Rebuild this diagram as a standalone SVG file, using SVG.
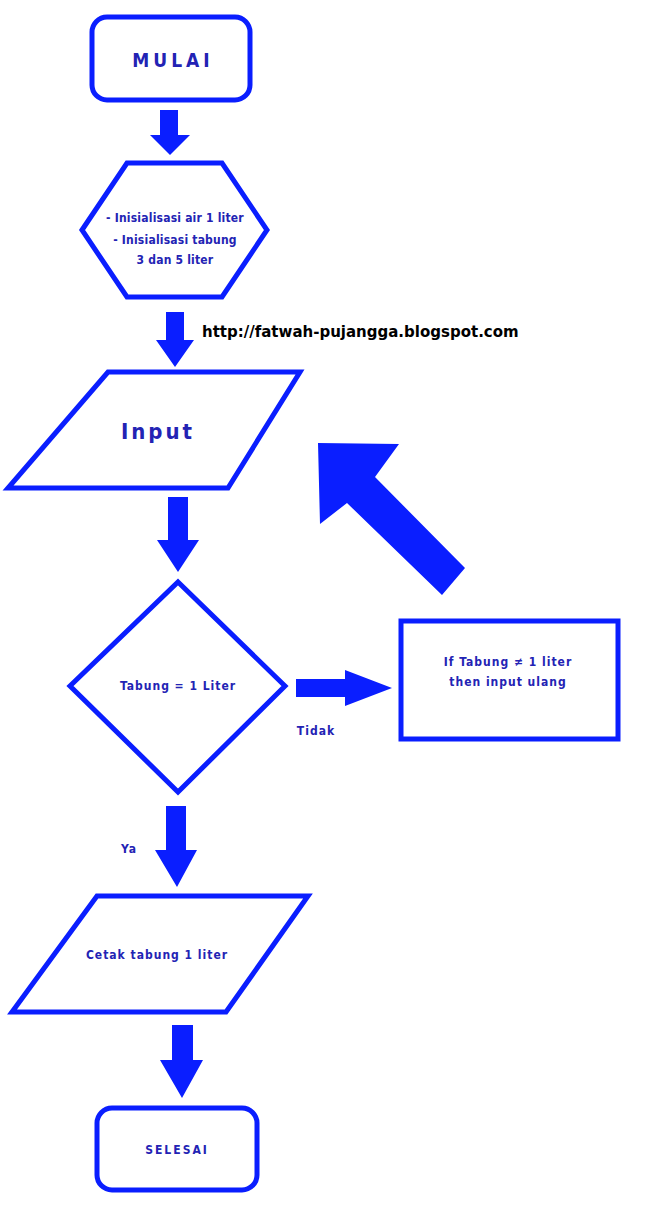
<svg xmlns="http://www.w3.org/2000/svg" width="645" height="1211" viewBox="0 0 645 1211">
<style>
.s{fill:#fff;stroke:#0a1eff;stroke-width:5}
.a{fill:#0a1eff}
.t{font-family:"DejaVu Sans Condensed","Liberation Sans",sans-serif;fill:#2323b4;font-size:12px;font-weight:bold;text-anchor:middle;letter-spacing:1px}
.h{letter-spacing:0.2px}
</style>
<rect width="645" height="1211" fill="#fff"/>
<g id="connectors">
<polygon class="a" points="160,110 178,110 178,135 190,135 170,155 150,135 160,135"/>
<polygon class="a" points="166,312 184,312 184,340 194,340 175,367 156,340 166,340"/>
<polygon class="a" points="168,497 188,497 188,540 199,540 178,572 157,540 168,540"/>
<polygon class="a" points="296,679 345,679 345,670 392,688 345,706 345,697 296,697"/>
<polygon class="a" points="318,443 399,444 375,477 465,568 442,595 347,503 320,524"/>
<polygon class="a" points="166,806 186,806 186,850 197,850 177,887 155,850 166,850"/>
<polygon class="a" points="172,1025 193,1025 193,1060 203,1060 182,1098 160,1060 172,1060"/>
<text class="t" x="316" y="735">Tidak</text>
<text class="t" x="129" y="853">Ya</text>
</g>
<g id="mulai"><rect class="s" x="92" y="17" width="158" height="83" rx="15"/><text class="t" x="173" y="67" style="font-size:19px;letter-spacing:4px">MULAI</text></g>
<g id="init"><polygon class="s" points="82,230 127,163 222,163 267,230 222,297 127,297"/>
<text class="t h" x="175" y="222">- Inisialisasi air 1 liter</text>
<text class="t h" x="175" y="244">- Inisialisasi tabung</text>
<text class="t h" x="175" y="264">3 dan 5 liter</text></g>
<text x="202" y="337" style="font-family:'DejaVu Sans',sans-serif;font-size:15px;font-weight:bold;fill:#000">http://fatwah-pujangga.blogspot.com</text>
<g id="input"><polygon class="s" points="108,372 300,372 228,488 8,488"/><text class="t" x="158" y="439" style="font-size:22px;letter-spacing:3px">Input</text></g>
<g id="decision"><polygon class="s" points="178,582 285,686 178,792 70,686"/><text class="t" x="178" y="690">Tabung = 1 Liter</text></g>
<g id="ulang"><rect class="s" x="401" y="621" width="217" height="118"/>
<text class="t" x="508" y="666">If Tabung ≠ 1 liter</text>
<text class="t" x="508" y="686">then input ulang</text></g>
<g id="cetak"><polygon class="s" points="97,896 308,896 226,1012 12,1012"/><text class="t" x="157" y="959">Cetak tabung 1 liter</text></g>
<g id="selesai"><rect class="s" x="97" y="1108" width="160" height="82" rx="15"/><text class="t" x="177" y="1154" style="letter-spacing:2px">SELESAI</text></g>
</svg>
